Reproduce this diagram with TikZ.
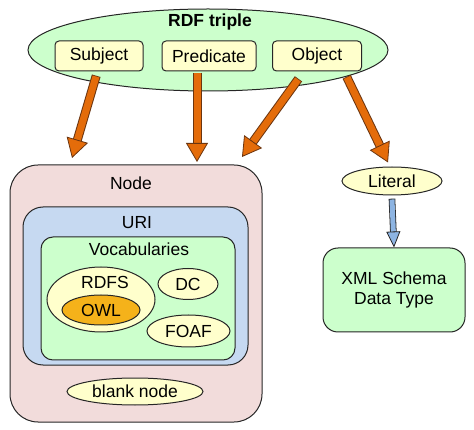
\documentclass[tikz,border=0pt]{standalone}
\usepackage{fontspec}
\setmainfont{Liberation Sans}
\usetikzlibrary{arrows.meta,shapes.geometric}

\definecolor{triplegreen}{HTML}{CCFFCC}
\definecolor{termyellow}{HTML}{FFFFCC}
\definecolor{nodepink}{HTML}{F2DCDB}
\definecolor{uriblue}{HTML}{C6D9F1}
\definecolor{owlorange}{HTML}{F5B21A}
\definecolor{arroworange}{HTML}{E46C0A}
\definecolor{arrowedge}{HTML}{6B3510}
\definecolor{litblue}{HTML}{8DB4E2}
\definecolor{edgegray}{HTML}{262626}

\begin{document}
\begin{tikzpicture}[x=1pt, y=-1pt, every node/.style={font=\fontsize{17.5}{20}\selectfont},
    term/.style={rectangle, rounded corners=4pt, draw=edgegray, fill=termyellow, line width=1pt, minimum height=30pt, inner sep=0pt},
    voc/.style={ellipse, draw=edgegray, fill=termyellow, line width=1pt, inner sep=0pt},
    region/.style={rectangle, draw=edgegray, line width=1pt, inner sep=0pt},
    bigarrow/.style={line width=7pt, draw=arroworange, -{Triangle[width=22pt,length=19pt,line width=0.8pt,color=arrowedge,fill=arroworange]},
      preaction={draw=arrowedge, line width=9pt, -, shorten >=17pt, shorten <=-0.8pt}},
    litarrow/.style={line width=5pt, draw=litblue, -{Triangle[width=14pt,length=16pt,line width=0.8pt,color=edgegray,fill=litblue]},
      preaction={draw=edgegray, line width=6.6pt, -, shorten >=14pt, shorten <=-0.8pt}}]
    \useasboundingbox (0,0) rectangle (474,430);

    % RDF triple
    \node[ellipse, draw=edgegray, fill=triplegreen, line width=1pt, minimum width=360pt, minimum height=82pt, inner sep=0pt] (triple) at (208,50) {};
    \node[font=\fontsize{17.5}{20}\selectfont\bfseries] (tripleTitle) at (210,22) {RDF triple};
    \node[term, minimum width=88pt] (subj) at (99,56) {Subject};
    \node[term, minimum width=94pt] (pred) at (209,56) {Predicate};
    \node[term, minimum width=89pt] (obj) at (317,56) {Object};

    % Node
    \node[region, fill=nodepink, rounded corners=28pt, minimum width=252pt, minimum height=257pt] (rdfnode) at (136,293.5) {};
    \node (nodeTitle) at (131,183) {Node};
    \node[region, fill=uriblue, rounded corners=20pt, minimum width=225pt, minimum height=158pt] (uri) at (135.5,286) {};
    \node (uriTitle) at (137,223) {URI};
    \node[region, fill=triplegreen, rounded corners=12pt, minimum width=194pt, minimum height=123pt] (vocab) at (138,298.5) {};
    \node (vocabTitle) at (139,249) {Vocabularies};
    \node[voc, minimum width=108pt, minimum height=65pt] (rdfs) at (101,299.5) {};
    \node (rdfsTitle) at (105,282) {RDFS};
    \node[voc, fill=owlorange, minimum width=78pt, minimum height=30pt] (owl) at (101,310) {OWL};
    \node[voc, minimum width=60pt, minimum height=31pt] (dc) at (188,284) {DC};
    \node[voc, minimum width=83pt, minimum height=32pt] (foaf) at (188.5,331) {FOAF};
    \node[voc, minimum width=136pt, minimum height=27pt] (blank) at (135,391.5) {blank node};

    % Literal
    \node[voc, minimum width=100pt, minimum height=28pt] (lit) at (392,181) {Literal};
    \node[region, fill=triplegreen, rounded corners=15pt, minimum width=142pt, minimum height=84pt, align=center] (xsd) at (394,290) {XML Schema\\Data Type};

    % Arrows
    \coordinate (tipA) at (72,158);
    \coordinate (tipB) at (197,162);
    \coordinate (tipC) at (242,157);
    \draw[bigarrow] ([shift={(-3,5)}]subj.south) -- (tipA);
    \draw[bigarrow] ([shift={(-12,2)}]pred.south) -- (tipB);
    \draw[bigarrow] ([shift={(-19,8)}]obj.south) -- (tipC);
    \draw[bigarrow] ([shift={(30,6)}]obj.south) -- ([shift={(-4,-4)}]lit.north);
    \draw[litarrow] ([yshift=-4pt]lit.south) -- (xsd.north);
\end{tikzpicture}
\end{document}
